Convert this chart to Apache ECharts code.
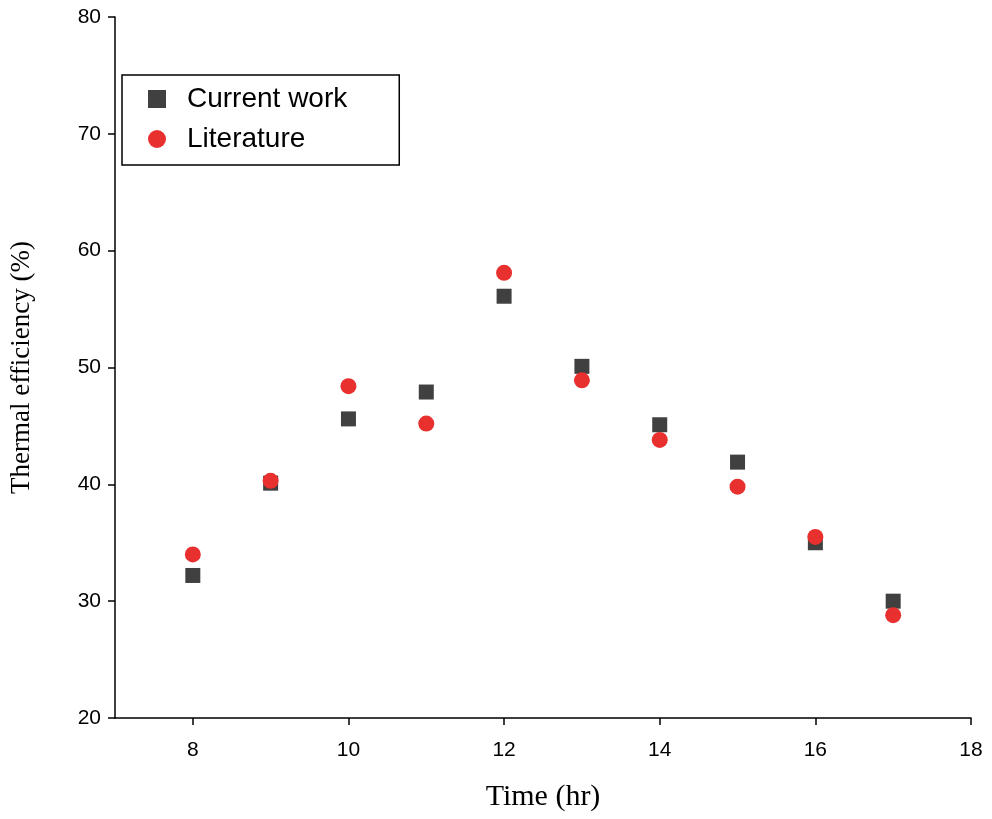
<!DOCTYPE html>
<html><head><meta charset="utf-8">
<script src="https://cdn.jsdelivr.net/npm/echarts@6/dist/echarts.min.js"></script>
<style>html,body{margin:0;background:#fff}#c{width:992px;height:819px}</style>
</head><body><div id="c"></div>
<script>
const hours = [8,9,10,11,12,13,14,15,16,17];
const currentWork = [32.2,40.1,45.6,47.9,56.1,50.1,45.1,41.9,35.0,30.0];
const literature = [34.0,40.3,48.4,45.2,58.1,48.9,43.8,39.8,35.5,28.8];
const xTicks = [8,10,12,14,16,18];

const chart = echarts.init(document.getElementById('c'));
chart.setOption({
  animation:false,
  grid:{left:113,right:21,top:17,bottom:101},
  legend:{
    left:122,top:75,orient:'vertical',
    borderColor:'#000',borderWidth:1.5,padding:[10,52,12,26],itemGap:12,
    itemWidth:18,itemHeight:18,
    textStyle:{fontFamily:'Liberation Sans',fontSize:28,color:'#000',padding:[0,0,0,16]},
    data:['Current work','Literature']
  },
  xAxis:{
    type:'value',min:7,max:18,
    name:'Time (hr)',nameLocation:'middle',nameGap:64,
    nameTextStyle:{fontFamily:'Liberation Serif',fontSize:30,color:'#000'},
    axisLine:{lineStyle:{color:'#000',width:1.5}},
    axisTick:{customValues:xTicks,length:7,lineStyle:{color:'#000',width:1.5}},
    axisLabel:{customValues:xTicks,fontFamily:'Liberation Sans',fontSize:21,color:'#000',margin:22},
    splitLine:{show:false}
  },
  yAxis:{
    type:'value',min:20,max:80,interval:10,
    name:'Thermal efficiency (%)',nameLocation:'middle',nameGap:80,
    nameTextStyle:{fontFamily:'Liberation Serif',fontSize:27,color:'#000'},
    axisLine:{show:true,lineStyle:{color:'#000',width:1.5}},
    axisTick:{show:true,length:7,lineStyle:{color:'#000',width:1.5}},
    axisLabel:{fontFamily:'Liberation Sans',fontSize:21,color:'#000',margin:14},
    splitLine:{show:false}
  },
  series:[
    {name:'Current work',type:'scatter',symbol:'rect',symbolSize:15,
     itemStyle:{color:'#404040',opacity:1},data:hours.map((h,i)=>[h,currentWork[i]])},
    {name:'Literature',type:'scatter',symbol:'circle',symbolSize:16,
     itemStyle:{color:'#e8302f',opacity:1},data:hours.map((h,i)=>[h,literature[i]])}
  ]
});
</script></body></html>
